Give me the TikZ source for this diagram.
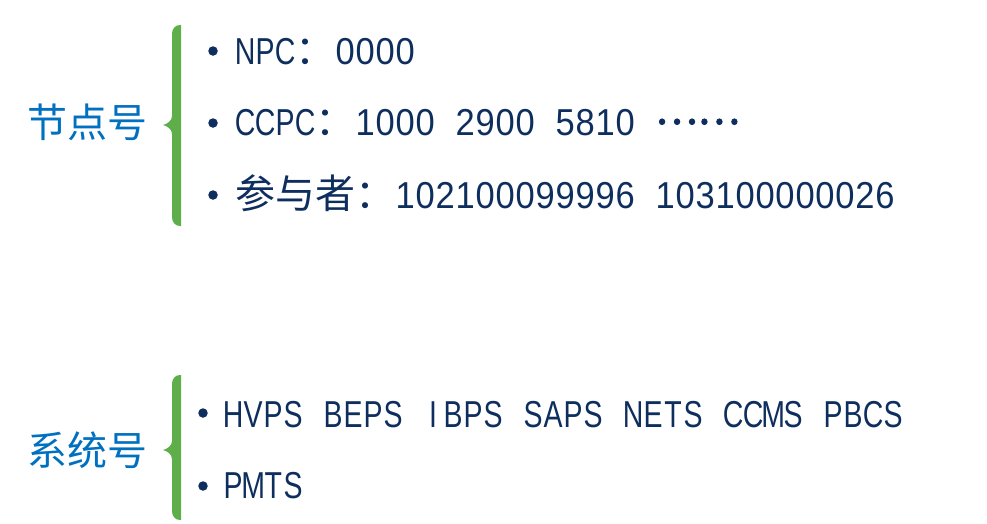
\documentclass[tikz,border=0pt]{standalone}
\usepackage{fontspec}
\setmainfont{Liberation Sans}[FakeStretch=0.92]
\newfontfamily\narrowf{Liberation Sans}[FakeStretch=0.76]
\newfontfamily\cjk{Noto Sans CJK SC}
\newfontfamily\cjkdots{Noto Sans CJK SC}[FakeBold=2.5]
\definecolor{navy}{RGB}{14,46,94}
\definecolor{lblue}{RGB}{0,112,192}
\definecolor{bgreen}{RGB}{94,174,74}
\newcommand\mono[1]{\monoloop#1\relax}
\def\monoloop#1{\ifx\relax#1\else\makebox[20pt]{#1}\expandafter\monoloop\fi}
\newcommand\caps[1]{{\narrowf\mono{#1}}}
\newcommand\gap{\hspace*{20pt}}
\newcommand\cj[1]{{\cjk\fontsize{40}{48}\selectfont #1}}
\newcommand\fw[1]{\makebox[40pt][c]{\cj{#1}}}
\tikzset{
  item/.style={anchor=base west, inner sep=0pt, text=navy, font=\fontsize{37.5}{45}\selectfont},
  grouplabel/.style={anchor=base west, inner sep=0pt, text=lblue, font=\cjk\fontsize{40}{48}\selectfont},
  bullet/.style={circle, fill=navy, inner sep=0pt, minimum size=9.5pt},
  bracefill/.style={fill=bgreen}
}
\begin{document}
\begin{tikzpicture}[x=1pt, y=-1pt]
\useasboundingbox (0,0) rectangle (987,523);
% group 1
\node[grouplabel] (lab1) at (27,137) {节点号};
\fill[bracefill] (181,25) -- (181,226) -- (180,226) .. controls (175,226) and (172,222) .. (172,217) -- (172,134) .. controls (172,129) and (167,126) .. (163,125) .. controls (167,124) and (172,121) .. (172,116) -- (172,34) .. controls (172,29) and (175,25) .. (180,25) -- cycle;
\node[bullet] (b1) at (213,51) {};
\node[bullet] (b2) at (213,123) {};
\node[bullet] (b3) at (213,195) {};
\node[item] (t1) at (235,64) {\caps{NPC}\fw{：}\mono{0000}};
\node[item] (t2) at (235,135) {\caps{CCPC}\fw{：}\mono{1000}\gap\mono{2900}\gap\mono{5810}\gap\raisebox{11pt}{{\cjkdots\fontsize{40}{48}\selectfont ……}}};
\node[item] (t3) at (235,208) {\cj{参与者}\fw{：}\mono{102100099996}\gap\mono{103100000026}};
% group 2
\node[grouplabel] (lab2) at (27,465) {系统号};
\fill[bracefill] (181,375) -- (181,520) -- (180,520) .. controls (175,520) and (172,516) .. (172,511) -- (172,459) .. controls (172,454) and (167,451) .. (163,450) .. controls (167,449) and (172,446) .. (172,441) -- (172,384) .. controls (172,379) and (175,375) .. (180,375) -- cycle;
\node[bullet] (b4) at (203,413) {};
\node[bullet] (b5) at (203,486) {};
\node[item] (t4) at (223,427) {\caps{HVPS}\gap\caps{BEPS}\gap\caps{IBPS}\gap\caps{SAPS}\gap\caps{NETS}\gap\caps{CCMS}\gap\caps{PBCS}};
\node[item] (t5) at (223,498) {\caps{PMTS}};
\end{tikzpicture}
\end{document}
